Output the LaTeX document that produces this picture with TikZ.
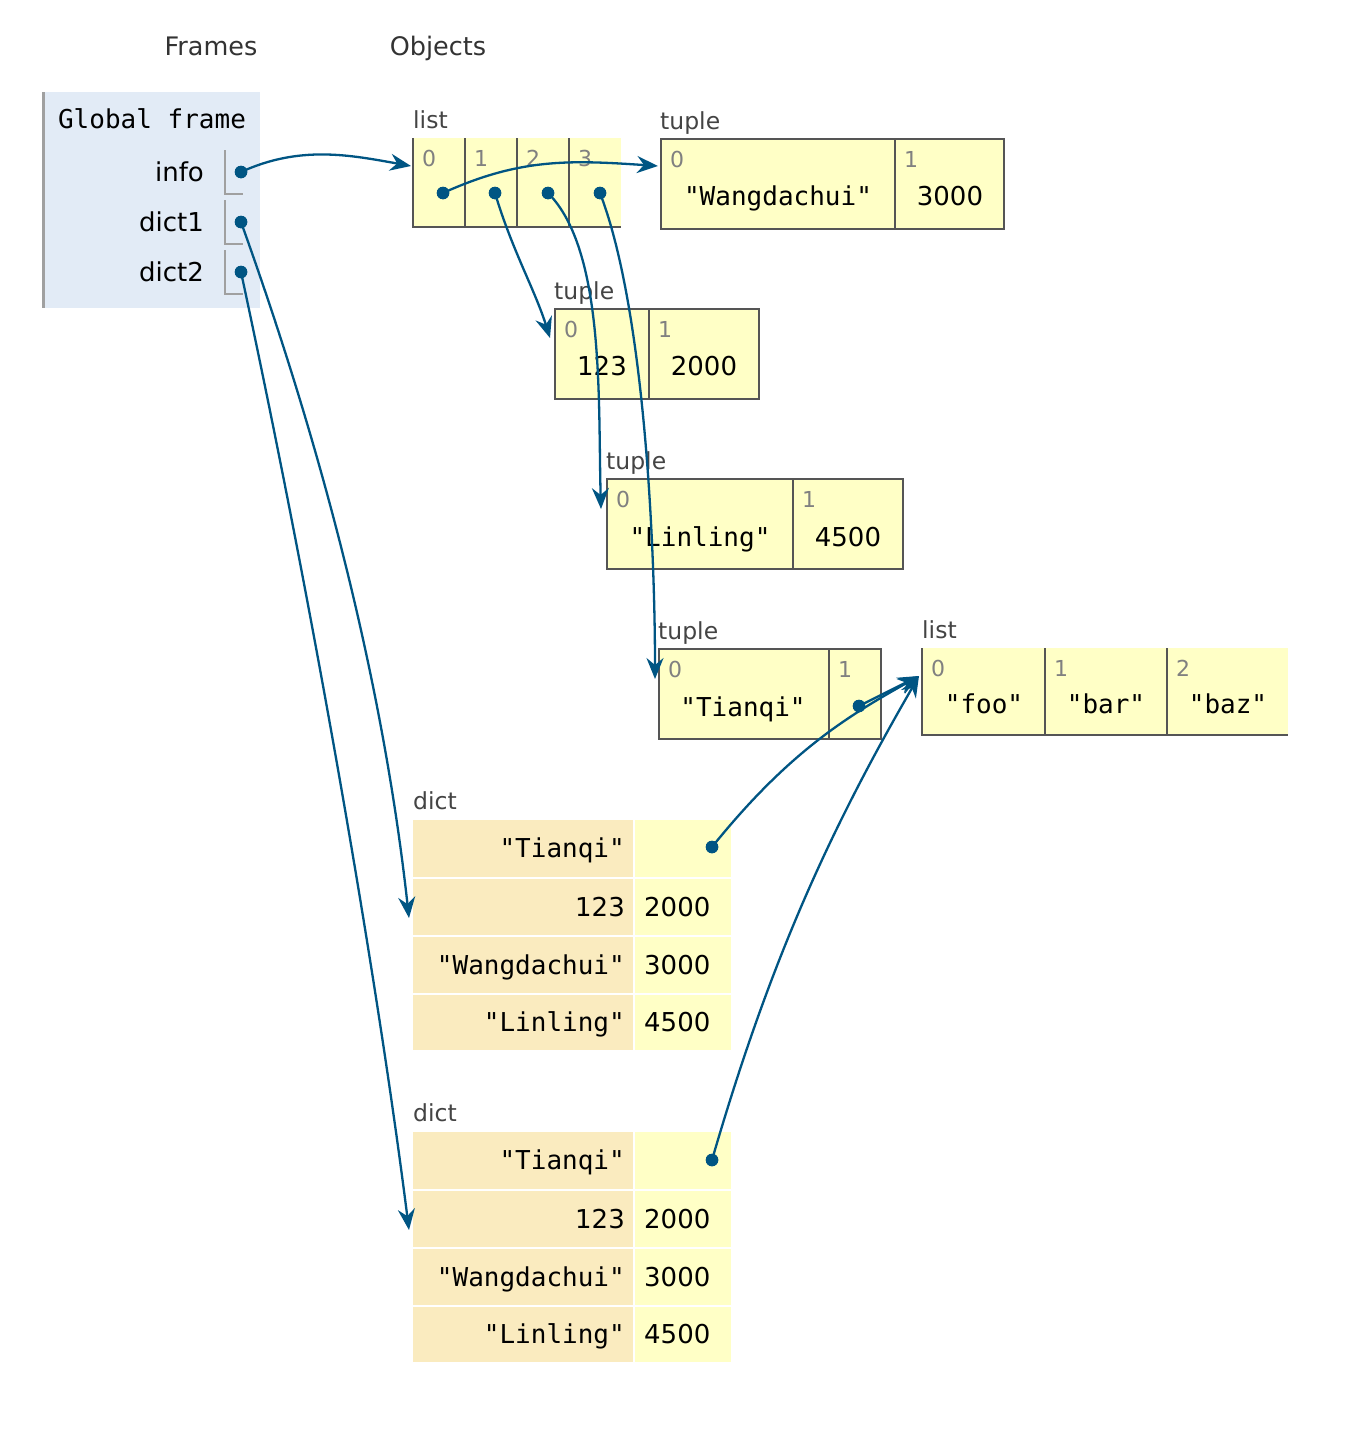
\documentclass[tikz,border=0pt]{standalone}
\usepackage{fontspec}
\setmainfont{DejaVu Sans}
\newfontfamily\monof{DejaVu Sans Mono}
\usetikzlibrary{arrows.meta}
\definecolor{ptr}{HTML}{005583}
\definecolor{ly}{HTML}{FFFFC6}
\definecolor{keyfill}{HTML}{FAEBBF}
\definecolor{fbg}{HTML}{E2EBF6}
\definecolor{bord}{HTML}{555555}
\definecolor{idxc}{HTML}{808080}
\definecolor{lblc}{HTML}{444444}
\definecolor{ptrbox}{HTML}{A0A0A0}
\tikzset{
 box/.style={anchor=north west, inner sep=0, outer sep=0, fill=ly, draw=bord, line width=2pt},
 lcell/.style={anchor=north west, inner sep=0, outer sep=0, fill=ly},
 kcell/.style={anchor=north west, inner sep=0, outer sep=0, fill=keyfill},
 idxt/.style={anchor=base west, inner sep=0, text=idxc, font=\fontsize{22}{26}\selectfont},
 typet/.style={anchor=base west, inner sep=0, text=lblc, font=\fontsize{23.5}{28}\selectfont},
 hdr/.style={anchor=base, inner sep=0, text=black!80, font=\fontsize{25.5}{30}\selectfont},
 strv/.style={anchor=base, inner sep=0, font=\monof\fontsize{26}{30}\selectfont},
 numv/.style={anchor=base, inner sep=0, font=\fontsize{26}{30}\selectfont},
 ptrdot/.style={circle, fill=ptr, inner sep=0, minimum size=12.5pt},
 ptrarrow/.style={draw=ptr, line width=2.3pt, -{Stealth[length=21pt,width=17pt,inset=7pt]}},
 lline/.style={draw=bord, line width=2pt},
 pbox/.style={draw=ptrbox, line width=2pt},
}
\begin{document}
\begin{tikzpicture}[x=1pt,y=-1pt]
\useasboundingbox (0,0) rectangle (1364,1440);
\fill[white] (0,0) rectangle (1364,1440);
% headers
\node[hdr] (hframes) at (211,55) {Frames};
\node[hdr] (hobjects) at (438,55) {Objects};
% global frame
\node[anchor=north west, inner sep=0, fill=fbg, minimum width=218pt, minimum height=216pt] (gframe) at (42,92) {};
\draw[draw=ptrbox, line width=3pt] (gframe.north west) ++(1.5,0) coordinate (gfl1) -- (gframe.south west -| gfl1);
\node[anchor=base, inner sep=0, font=\monof\fontsize{26}{30}\selectfont] (gtitle) at (152,128) {Global frame};
\node[numv, anchor=base east] (vinfo) at (204,181) {info};
\node[numv, anchor=base east] (vdict1) at (204,231) {dict1};
\node[numv, anchor=base east] (vdict2) at (204,281) {dict2};
\draw[pbox] (225,150) -- (225,194) -- (243,194);
\draw[pbox] (225,200) -- (225,244) -- (243,244);
\draw[pbox] (225,250) -- (225,294) -- (243,294);
\node[ptrdot] (dinfo) at (241,172) {};
\node[ptrdot] (ddict1) at (241,222) {};
\node[ptrdot] (ddict2) at (241,272) {};
% list 1 (info)
\node[typet] (tlist1) at (413,128) {list};
\node[lcell, minimum width=208pt, minimum height=89pt] (list1) at (413,138) {};
\draw[lline] (413,138) -- (413,227) -- (621,227);
\draw[lline] (465,138) -- (465,227);
\draw[lline] (517,138) -- (517,227);
\draw[lline] (569,138) -- (569,227);
\node[idxt] (l1i0) at (422,166) {0};
\node[idxt] (l1i1) at (474,166) {1};
\node[idxt] (l1i2) at (526,166) {2};
\node[idxt] (l1i3) at (578,166) {3};
% tuple Wangdachui
\node[typet] (ttw) at (660,129) {tuple};
\node[box, minimum width=234pt, minimum height=90pt] (tw0) at (661,139) {};
\node[box, minimum width=109pt, minimum height=90pt] (tw1) at (895,139) {};
\node[idxt] (twi0) at (670,167) {0};
\node[idxt] (twi1) at (904,167) {1};
\node[strv] (twv0) at (778,205) {"Wangdachui"};
\node[numv] (twv1) at (950,205) {3000};
% tuple 123
\node[typet] (tt1) at (554,299) {tuple};
\node[box, minimum width=94pt, minimum height=90pt] (t10) at (555,309) {};
\node[box, minimum width=110pt, minimum height=90pt] (t11) at (649,309) {};
\node[idxt] (t1i0) at (564,337) {0};
\node[idxt] (t1i1) at (658,337) {1};
\node[numv] (t1v0) at (602,375) {123};
\node[numv] (t1v1) at (704,375) {2000};
% tuple Linling
\node[typet] (tt2) at (606,469) {tuple};
\node[box, minimum width=186pt, minimum height=90pt] (t20) at (607,479) {};
\node[box, minimum width=110pt, minimum height=90pt] (t21) at (793,479) {};
\node[idxt] (t2i0) at (616,507) {0};
\node[idxt] (t2i1) at (802,507) {1};
\node[strv] (t2v0) at (700,546) {"Linling"};
\node[numv] (t2v1) at (848,546) {4500};
% tuple Tianqi
\node[typet] (tt3) at (658,639) {tuple};
\node[box, minimum width=170pt, minimum height=90pt] (t30) at (659,649) {};
\node[box, minimum width=52pt, minimum height=90pt] (t31) at (829,649) {};
\node[idxt] (t3i0) at (668,677) {0};
\node[idxt] (t3i1) at (838,677) {1};
\node[strv] (t3v0) at (743,716) {"Tianqi"};
% list foo
\node[typet] (tlist2) at (922,638) {list};
\node[lcell, minimum width=366pt, minimum height=87pt] (list2) at (922,648) {};
\draw[lline] (922,648) -- (922,735) -- (1288,735);
\draw[lline] (1045,648) -- (1045,735);
\draw[lline] (1167,648) -- (1167,735);
\node[idxt] (l2i0) at (931,676) {0};
\node[idxt] (l2i1) at (1054,676) {1};
\node[idxt] (l2i2) at (1176,676) {2};
\node[strv] (l2v0) at (984,713) {"foo"};
\node[strv] (l2v1) at (1106,713) {"bar"};
\node[strv] (l2v2) at (1228,713) {"baz"};
% dict 1
\node[typet] (td1) at (413,809) {dict};
\node[kcell, minimum width=220pt, minimum height=57pt] (d1k0) at (413,820) {};
\node[kcell, minimum width=220pt, minimum height=56pt] (d1k1) at (413,879) {};
\node[kcell, minimum width=220pt, minimum height=56pt] (d1k2) at (413,937) {};
\node[kcell, minimum width=220pt, minimum height=55pt] (d1k3) at (413,995) {};
\node[lcell, minimum width=96pt, minimum height=57pt] (d1v0) at (635,820) {};
\node[lcell, minimum width=96pt, minimum height=56pt] (d1v1) at (635,879) {};
\node[lcell, minimum width=96pt, minimum height=56pt] (d1v2) at (635,937) {};
\node[lcell, minimum width=96pt, minimum height=55pt] (d1v3) at (635,995) {};
\node[strv, anchor=base east] (d1kt0) at (625,857) {"Tianqi"};
\node[numv, anchor=base east] (d1kt1) at (625,916) {123};
\node[strv, anchor=base east] (d1kt2) at (625,974) {"Wangdachui"};
\node[strv, anchor=base east] (d1kt3) at (625,1031) {"Linling"};
\node[numv, anchor=base west] (d1vt1) at (644,916) {2000};
\node[numv, anchor=base west] (d1vt2) at (644,974) {3000};
\node[numv, anchor=base west] (d1vt3) at (644,1031) {4500};
% dict 2
\node[typet] (td2) at (413,1121) {dict};
\node[kcell, minimum width=220pt, minimum height=57pt] (d2k0) at (413,1132) {};
\node[kcell, minimum width=220pt, minimum height=56pt] (d2k1) at (413,1191) {};
\node[kcell, minimum width=220pt, minimum height=56pt] (d2k2) at (413,1249) {};
\node[kcell, minimum width=220pt, minimum height=55pt] (d2k3) at (413,1307) {};
\node[lcell, minimum width=96pt, minimum height=57pt] (d2v0) at (635,1132) {};
\node[lcell, minimum width=96pt, minimum height=56pt] (d2v1) at (635,1191) {};
\node[lcell, minimum width=96pt, minimum height=56pt] (d2v2) at (635,1249) {};
\node[lcell, minimum width=96pt, minimum height=55pt] (d2v3) at (635,1307) {};
\node[strv, anchor=base east] (d2kt0) at (625,1169) {"Tianqi"};
\node[numv, anchor=base east] (d2kt1) at (625,1228) {123};
\node[strv, anchor=base east] (d2kt2) at (625,1286) {"Wangdachui"};
\node[strv, anchor=base east] (d2kt3) at (625,1343) {"Linling"};
\node[numv, anchor=base west] (d2vt1) at (644,1228) {2000};
\node[numv, anchor=base west] (d2vt2) at (644,1286) {3000};
\node[numv, anchor=base west] (d2vt3) at (644,1343) {4500};
% target coordinates
\coordinate (inl1) at (411,166);
\coordinate (intw) at (658,166);
\coordinate (int1) at (550,338);
\coordinate (int2) at (601,509);
\coordinate (int3) at (655,679);
\coordinate (inl2) at (919,676);
\coordinate (ind1) at (409,918);
\coordinate (ind2) at (409,1230);
% source dots in objects
\node[ptrdot] (dl0) at (443,193) {};
\node[ptrdot] (dl1) at (495,193) {};
\node[ptrdot] (dl2) at (548,193) {};
\node[ptrdot] (dl3) at (600,193) {};
\node[ptrdot] (dt3) at (859,706) {};
\node[ptrdot] (dd1) at (712,847) {};
\node[ptrdot] (dd2) at (712,1160) {};
% arrows
\draw[ptrarrow] (dinfo.center) .. controls (300,145) and (350,155) .. (inl1);
\draw[ptrarrow] (dl0.center) .. controls (520,158) and (570,160) .. (intw);
\draw[ptrarrow] (dl1.center) .. controls (512,250) and (535,290) .. (int1);
\draw[ptrarrow] (dl2.center) .. controls (605,250) and (598,400) .. (int2);
\draw[ptrarrow] (dl3.center) .. controls (645,310) and (655,550) .. (int3);
\draw[ptrarrow] (dt3.center) -- (inl2);
\draw[ptrarrow] (dd1.center) .. controls (790,750) and (850,715) .. (inl2);
\draw[ptrarrow] (dd2.center) .. controls (770,960) and (830,830) .. (inl2);
\draw[ptrarrow] (ddict1.center) .. controls (330,470) and (385,700) .. (ind1);
\draw[ptrarrow] (ddict2.center) .. controls (320,640) and (380,1000) .. (ind2);
% redraw dots on top
\node[ptrdot] at (dinfo) {};
\node[ptrdot] at (ddict1) {};
\node[ptrdot] at (ddict2) {};
\node[ptrdot] at (dl0) {};
\node[ptrdot] at (dl1) {};
\node[ptrdot] at (dl2) {};
\node[ptrdot] at (dl3) {};
\node[ptrdot] at (dt3) {};
\node[ptrdot] at (dd1) {};
\node[ptrdot] at (dd2) {};
\end{tikzpicture}
\end{document}
